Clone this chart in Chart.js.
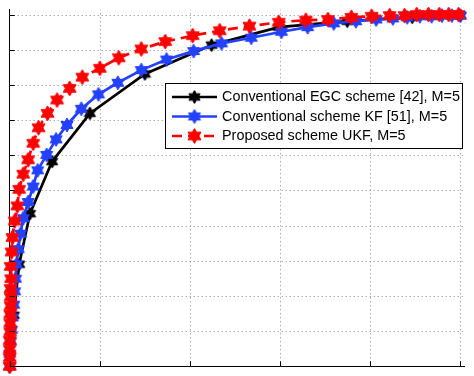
<!DOCTYPE html>
<html>
<head>
<meta charset="utf-8">
<script src="https://cdn.jsdelivr.net/npm/chart.js@4.4.0/dist/chart.umd.min.js"></script>
<style>
  html, body { margin: 0; padding: 0; background: #fff; }
</style>
</head>
<body>
<canvas id="roc-chart" width="474" height="376"></canvas>
<script>
// Axis ticks (no labels visible in the crop, only grid positions)
const xTicks = [0, 0.2, 0.4, 0.6, 0.8, 1.0];
const yTicks = [0, 0.1, 0.2, 0.3, 0.4, 0.5, 0.6, 0.7, 0.8, 0.9, 1.0];

const seriesLabels = [
    'Conventional EGC scheme [42], M=5',
    'Conventional scheme KF [51], M=5',
    'Proposed scheme UKF, M=5'
];

// Conventional EGC (black)
const egcPfa = [0, 0.009, 0.021, 0.045, 0.094, 0.178, 0.300, 0.448, 0.597, 0.749, 0.893, 1.0];
const egcPd  = [0, 0.145, 0.290, 0.434, 0.582, 0.719, 0.831, 0.913, 0.964, 0.981, 0.992, 0.997];

// Conventional KF (blue)
const kfPfa = [0, 0, 0.002, 0.004, 0.006, 0.009, 0.011, 0.013, 0.015, 0.019, 0.024, 0.030, 0.041,
    0.052, 0.062, 0.082, 0.103, 0.127, 0.159, 0.197, 0.240, 0.292, 0.348, 0.408, 0.470, 0.536,
    0.603, 0.661, 0.719, 0.768, 0.813, 0.850, 0.882, 0.910, 0.936, 0.959, 0.981, 1.0];
const kfPd  = [0, 0.036, 0.071, 0.104, 0.139, 0.175, 0.213, 0.249, 0.290, 0.333, 0.377, 0.421, 0.467,
    0.511, 0.557, 0.601, 0.645, 0.686, 0.732, 0.773, 0.806, 0.842, 0.872, 0.896, 0.918, 0.934,
    0.951, 0.964, 0.975, 0.981, 0.986, 0.989, 0.992, 0.995, 0.995, 0.997, 0.997, 0.997];

// Proposed UKF (red, dashed)
const ukfPfa = [0, 0, 0, 0, 0.001, 0.001, 0.001, 0.002, 0.002, 0.002, 0.003, 0.002, 0.004, 0.006,
    0.011, 0.017, 0.021, 0.030, 0.041, 0.052, 0.064, 0.084, 0.105, 0.133, 0.161, 0.200, 0.242,
    0.292, 0.345, 0.406, 0.466, 0.532, 0.597, 0.657, 0.706, 0.758, 0.803, 0.843, 0.876, 0.903,
    0.929, 0.953, 0.974, 0.996];
const ukfPd  = [0, 0.025, 0.049, 0.074, 0.098, 0.123, 0.148, 0.172, 0.197, 0.221, 0.249, 0.284,
    0.325, 0.366, 0.413, 0.456, 0.503, 0.546, 0.587, 0.634, 0.678, 0.719, 0.757, 0.790, 0.822,
    0.847, 0.877, 0.902, 0.923, 0.940, 0.954, 0.967, 0.978, 0.984, 0.986, 0.992, 0.995, 0.997,
    0.997, 1.0, 1.0, 1.0, 1.0, 1.0];

const BLACK = '#000000';
const BLUE = 'rgb(35, 65, 255)';
const RED = '#ff0000';
const GRID = '#8a8a8a';

// MATLAB style hexagram marker, drawn once into a small canvas
function makeStar(color, r) {
    const size = Math.ceil(r * 2) + 2;
    const c = document.createElement('canvas');
    c.width = size;
    c.height = size;
    const g = c.getContext('2d');
    const cx = size / 2, cy = size / 2;
    const inner = r / Math.sqrt(3);
    g.beginPath();
    for (let i = 0; i < 12; i++) {
        const a = -Math.PI / 2 + i * Math.PI / 6;
        const rr = i % 2 === 0 ? r : inner;
        const px = cx + rr * Math.cos(a), py = cy + rr * Math.sin(a);
        if (i === 0) g.moveTo(px, py); else g.lineTo(px, py);
    }
    g.closePath();
    g.fillStyle = color;
    g.fill();
    g.strokeStyle = color;
    g.lineWidth = 1;
    g.stroke();
    return c;
}

const starBlack = makeStar(BLACK, 6.5);
const starBlue = makeStar(BLUE, 7);
const starRed = makeStar(RED, 7.5);

function toPoints(xs, ys) {
    return xs.map((x, i) => ({ x: x, y: ys[i] }));
}

// Dotted grid, inward ticks and legend box, like the MATLAB figure
const matlabAxes = {
    id: 'matlabAxes',
    beforeDatasetsDraw(chart) {
        const ctx = chart.ctx;
        const { left, right, top, bottom } = chart.chartArea;
        const xs = chart.scales.x, ys = chart.scales.y;
        ctx.save();
        ctx.strokeStyle = GRID;
        ctx.lineWidth = 1;
        ctx.setLineDash([1, 3]);
        ctx.beginPath();
        xTicks.slice(1).forEach(v => {
            const px = Math.round(xs.getPixelForValue(v)) + 0.5;
            ctx.moveTo(px, bottom);
            ctx.lineTo(px, top);
        });
        yTicks.slice(1).forEach(v => {
            const py = Math.round(ys.getPixelForValue(v)) + 0.5;
            ctx.moveTo(left, py);
            ctx.lineTo(right, py);
        });
        ctx.stroke();
        ctx.restore();
    },
    afterDraw(chart) {
        const ctx = chart.ctx;
        const { left, bottom } = chart.chartArea;
        const xs = chart.scales.x, ys = chart.scales.y;

        ctx.save();
        ctx.strokeStyle = '#000';
        ctx.lineWidth = 1;
        ctx.beginPath();
        xTicks.forEach(v => {
            const px = Math.round(xs.getPixelForValue(v)) + 0.5;
            ctx.moveTo(px, bottom);
            ctx.lineTo(px, bottom - 5);
        });
        yTicks.forEach(v => {
            const py = Math.round(ys.getPixelForValue(v)) + 0.5;
            ctx.moveTo(left, py);
            ctx.lineTo(left + 5, py);
        });
        ctx.stroke();

        // Legend
        const boxX = 165.5, boxY = 83.5, boxW = 297, boxH = 65;
        ctx.fillStyle = '#fff';
        ctx.fillRect(boxX, boxY, boxW, boxH);
        ctx.strokeRect(boxX, boxY, boxW, boxH);

        const rows = [97, 116.5, 136];
        const stars = [starBlack, starBlue, starRed];
        ctx.font = '14.4px "Liberation Sans", Arial, sans-serif';
        ctx.textBaseline = 'middle';
        chart.data.datasets.forEach((ds, i) => {
            const y = rows[i];
            ctx.strokeStyle = ds.borderColor;
            ctx.lineWidth = 2.7;
            ctx.setLineDash(ds.borderDash || []);
            ctx.beginPath();
            ctx.moveTo(172, y);
            ctx.lineTo(217, y);
            ctx.stroke();
            ctx.setLineDash([]);
            const s = stars[i];
            ctx.drawImage(s, 194.5 - s.width / 2, y - s.height / 2);
            ctx.fillStyle = '#000';
            ctx.fillText(ds.label, 222, y + 0.5);
        });
        ctx.restore();
    }
};

const ctx = document.getElementById('roc-chart').getContext('2d');
const rocChart = new Chart(ctx, {
    type: 'line',
    data: {
        datasets: [{
            label: seriesLabels[0],
            data: toPoints(egcPfa, egcPd),
            borderColor: BLACK,
            borderWidth: 2.7,
            pointStyle: starBlack,
            order: 3
        }, {
            label: seriesLabels[1],
            data: toPoints(kfPfa, kfPd),
            borderColor: BLUE,
            borderWidth: 2.7,
            pointStyle: starBlue,
            order: 2
        }, {
            label: seriesLabels[2],
            data: toPoints(ukfPfa, ukfPd),
            borderColor: RED,
            borderWidth: 2.7,
            borderDash: [10, 6],
            pointStyle: starRed,
            order: 1
        }]
    },
    options: {
        responsive: false,
        animation: false,
        clip: false,
        layout: { padding: { left: 4, right: 0, top: 0, bottom: 5 } },
        elements: {
            line: { tension: 0, fill: false },
            point: { radius: 7 }
        },
        plugins: {
            legend: { display: false },
            tooltip: { enabled: false }
        },
        scales: {
            x: {
                type: 'linear',
                position: 'bottom',
                min: 0,
                max: 1.0086,
                afterBuildTicks: (scale) => { scale.ticks = xTicks.map(v => ({ value: v })); },
                ticks: { display: false },
                grid: { display: false, drawTicks: false },
                border: { display: true, color: '#000', width: 1 }
            },
            y: {
                type: 'linear',
                min: 0,
                max: 1.0137,
                afterBuildTicks: (scale) => { scale.ticks = yTicks.map(v => ({ value: v })); },
                ticks: { display: false },
                grid: { display: false, drawTicks: false },
                border: { display: true, color: '#000', width: 1 }
            }
        }
    },
    plugins: [matlabAxes]
});
</script>
</body>
</html>
